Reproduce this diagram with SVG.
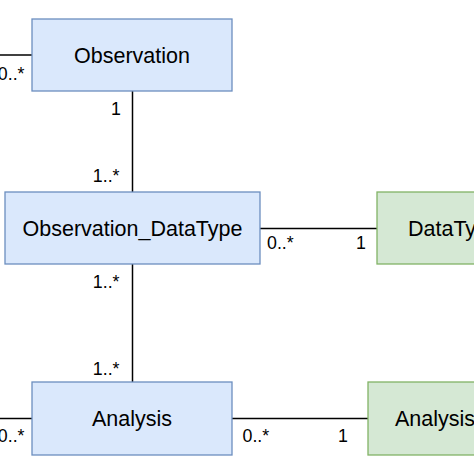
<svg xmlns="http://www.w3.org/2000/svg" width="474" height="474" viewBox="0 0 474 474">
<style>
.blue{fill:#dae8fc;stroke:#6c8ebf;stroke-width:1.3}
.green{fill:#d5e8d4;stroke:#82b366;stroke-width:1.3}
.t{font-family:"Liberation Sans",Arial,sans-serif;font-size:21.5px;fill:#000}
.l{font-family:"Liberation Sans",Arial,sans-serif;font-size:17.8px;fill:#000}
.c{fill:none;stroke:#000;stroke-width:1.5}
</style>
<rect width="474" height="474" fill="#fff"/>
<g id="connectors">
<line class="c" x1="0" y1="55" x2="32" y2="55"/>
<line class="c" x1="132.5" y1="91" x2="132.5" y2="192"/>
<line class="c" x1="132.5" y1="264" x2="132.5" y2="382"/>
<line class="c" x1="260" y1="228.5" x2="377" y2="228.5"/>
<line class="c" x1="0" y1="418.5" x2="32" y2="418.5"/>
<line class="c" x1="232" y1="418.5" x2="368" y2="418.5"/>
<text class="l" x="24.5" y="80" text-anchor="end">0..*</text>
<text class="l" x="121" y="115" text-anchor="end">1</text>
<text class="l" x="119.5" y="181.5" text-anchor="end">1..*</text>
<text class="l" x="119.5" y="288" text-anchor="end">1..*</text>
<text class="l" x="119.5" y="375" text-anchor="end">1..*</text>
<text class="l" x="267" y="249">0..*</text>
<text class="l" x="366" y="249" text-anchor="end">1</text>
<text class="l" x="24.5" y="441.5" text-anchor="end">0..*</text>
<text class="l" x="242.5" y="441.5">0..*</text>
<text class="l" x="348" y="441.5" text-anchor="end">1</text>
</g>
<g id="observation">
<rect class="blue" x="32" y="19" width="200" height="72"/>
<text class="t" x="132" y="62.7" text-anchor="middle">Observation</text>
</g>
<g id="observation_datatype">
<rect class="blue" x="5" y="192" width="255" height="72"/>
<text class="t" x="132.5" y="236" text-anchor="middle">Observation_DataType</text>
</g>
<g id="datatype">
<rect class="green" x="377" y="192" width="140" height="72"/>
<text class="t" x="408" y="236">DataType</text>
</g>
<g id="analysis">
<rect class="blue" x="32" y="382" width="200" height="73"/>
<text class="t" x="132" y="426" text-anchor="middle">Analysis</text>
</g>
<g id="analysis_type">
<rect class="green" x="368" y="382" width="140" height="73"/>
<text class="t" x="395" y="426">Analysis</text>
</g>
</svg>
